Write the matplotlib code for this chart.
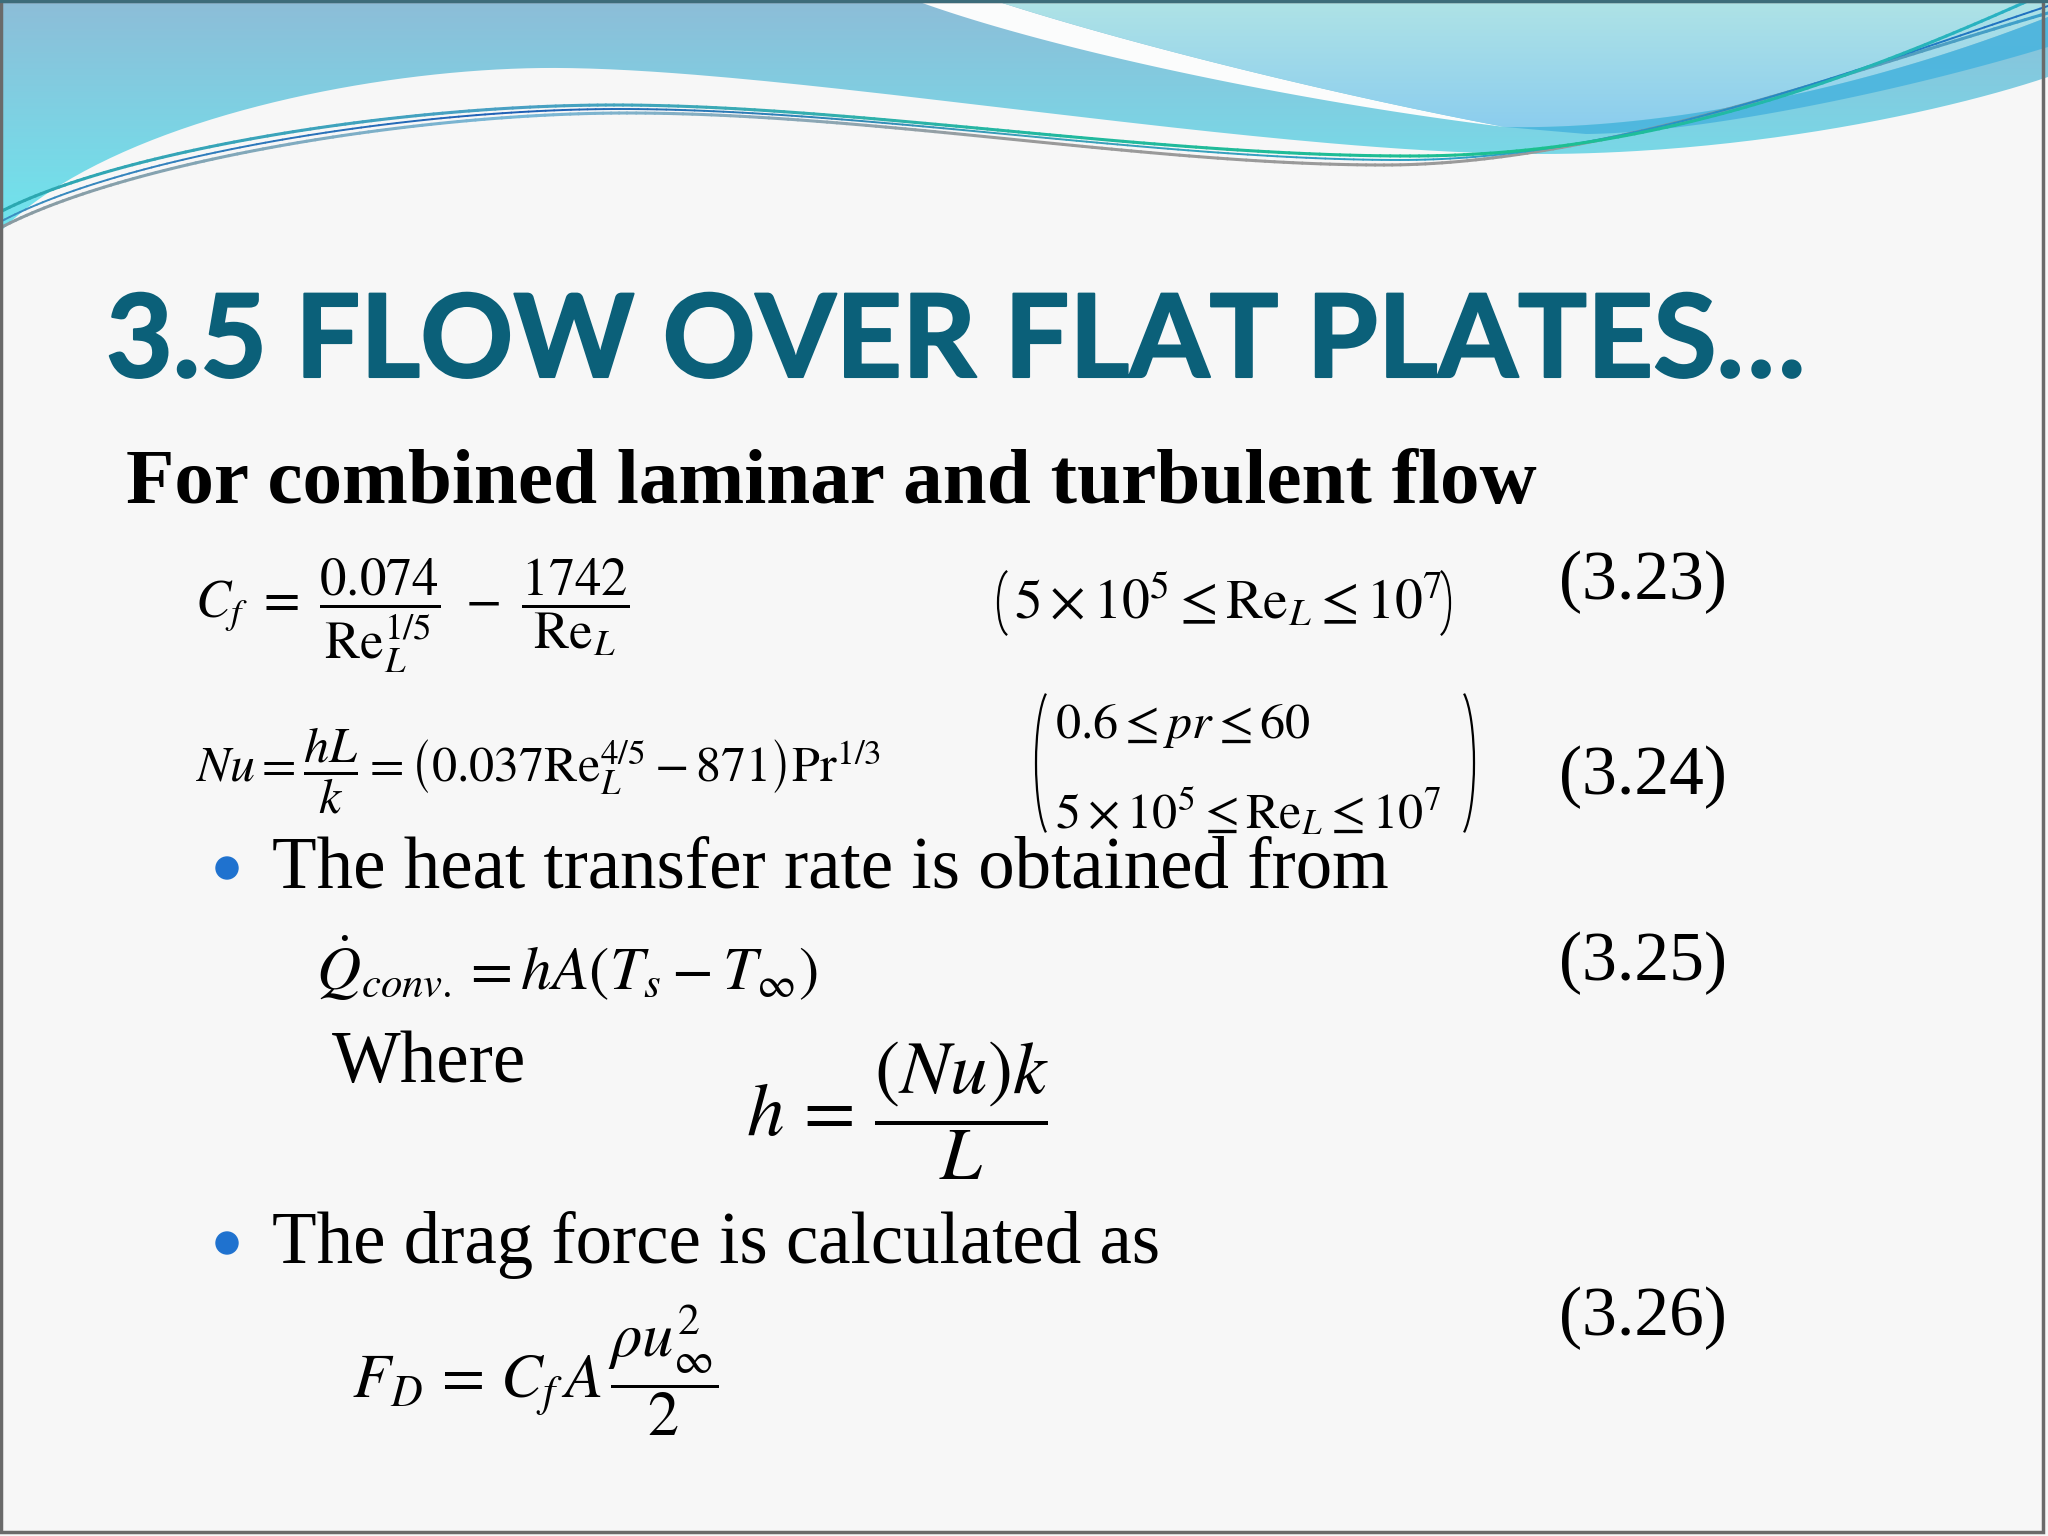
import numpy as np
import matplotlib.pyplot as plt
import matplotlib.patheffects as pe
from matplotlib.path import Path
from matplotlib.patches import PathPatch, Circle, Rectangle, Arc
from matplotlib.collections import LineCollection
from matplotlib.colors import LinearSegmentedColormap

plt.rcParams['mathtext.fontset'] = 'stix'

# slide texts
TITLE = "3.5 FLOW OVER FLAT PLATES\u2026"
SUBTITLE = "For combined laminar and turbulent flow"
BULLETS = ["The heat transfer rate is obtained from",
           "The drag force is calculated as"]
WHERE = "Where"
EQ_NUMBERS = ["(3.23)", "(3.24)", "(3.25)", "(3.26)"]
EQUATIONS = [
    r"$C_f\ =\ \dfrac{0.074}{\mathrm{Re}_L^{1/5}}\ -\ \dfrac{1742}{\mathrm{Re}_L}$",
    r"$Nu = \dfrac{hL}{k} = \left(0.037\mathrm{Re}_L^{4/5}-871\right)\mathrm{Pr}^{1/3}$",
    r"$\dot{Q}_{conv.} = hA(T_s - T_\infty)$",
    r"$F_D\,=\,C_f\,A\,\dfrac{\rho u_\infty^2}{2}$",
]
H_EQ = r"$h\,=\,\dfrac{(Nu)k}{L}$"
COND_323 = r"$5\times10^5 \leq \mathrm{Re}_L \leq 10^7$"
COND_324 = [r"$0.6 \leq pr \leq 60$", r"$5\times10^5 \leq \mathrm{Re}_L \leq 10^7$"]

W, H = 2048, 1536
BG = '#f7f7f7'

fig = plt.figure(figsize=(20.48, 15.36), dpi=100, facecolor=BG)
ax = fig.add_axes([0, 0, 1, 1])
ax.set_facecolor(BG)


def bez(p0, p1, p2, p3, n=80):
    t = np.linspace(0, 1, n)[:, None]
    return ((1 - t)**3 * p0 + 3 * (1 - t)**2 * t * p1
            + 3 * (1 - t) * t**2 * p2 + t**3 * p3)


def chain(start, segs):
    pts = [np.array([start], float)]
    cur = np.array(start, float)
    for c1, c2, end in segs:
        pts.append(bez(cur, np.array(c1, float), np.array(c2, float),
                       np.array(end, float))[1:])
        cur = np.array(end, float)
    return np.vstack(pts)


def grad_fill(poly, c_top, c_bot, y0, y1, z):
    patch = PathPatch(Path(poly), facecolor='none', edgecolor='none', zorder=z)
    ax.add_patch(patch)
    grad = np.linspace(0, 1, 256)[:, None]
    cmap = LinearSegmentedColormap.from_list('g', [c_top, c_bot])
    im = ax.imshow(grad, cmap=cmap, extent=(0, W, y1, y0), aspect='auto',
                   zorder=z, interpolation='bilinear')
    im.set_clip_path(patch)


def grad_line(pts, colors, lw, z):
    cmap = LinearSegmentedColormap.from_list('l', colors)
    segs = np.stack([pts[:-1], pts[1:]], axis=1)
    lc = LineCollection(segs, colors=cmap(pts[:-1, 0] / W), linewidths=lw,
                        zorder=z, capstyle='round')
    ax.add_collection(lc)


def paren_pair(xl, xr, yc, h, w=26, lw=1.6):
    ax.add_patch(Arc((xl + w / 2, yc), w, h, theta1=95, theta2=265, lw=lw,
                     color='black', zorder=20))
    ax.add_patch(Arc((xr - w / 2, yc), w, h, theta1=-85, theta2=85, lw=lw,
                     color='black', zorder=20))


# ---- top wave decoration ----
wave = chain((0, 232), [((110, 120), (380, 66), (562, 68)),
                        ((800, 70), (1250, 152), (1530, 154)),
                        ((1750, 155), (1950, 110), (2048, 77))])
region_a = np.vstack([[[0, 0], [W, 0]], wave[::-1]])
grad_fill(region_a, '#8dbdd8', '#6ee6ee', 0, 235, 1)

stripe_left = chain((914, 0), [((1050, 50), (1300, 102), (1505, 127))])
stripe_right = chain((993, 0), [((1100, 35), (1300, 88), (1505, 127))])
ax.add_patch(PathPatch(Path(np.vstack([stripe_left, stripe_right[::-1]])),
                       facecolor='#fbfcfc', edgecolor='none', zorder=2))

b_bottom = chain((1505, 127), [((1650, 130), (1850, 95), (2048, 17))])
region_b = np.vstack([stripe_right, b_bottom[1:], [[W, 0]]])
grad_fill(region_b, '#afe3e6', '#8bcdee', 0, 130, 3)

band_bottom = chain((1586, 134), [((1700, 133), (1900, 92), (2048, 47))])
band = np.vstack([b_bottom, band_bottom[::-1], [[1505, 127]]])
ax.add_patch(PathPatch(Path(band), facecolor='#4bb5de', edgecolor='none',
                       alpha=0.9, zorder=4))

line1 = chain((0, 212), [((120, 150), (400, 105), (614, 105)),
                         ((850, 105), (1150, 156), (1410, 156)),
                         ((1650, 156), (1850, 80), (2030, 0))])
line2 = chain((0, 228), [((130, 160), (420, 113), (627, 113)),
                         ((870, 113), (1150, 165), (1384, 165)),
                         ((1600, 165), (1850, 70), (2048, 13))])
line3 = chain((0, 222), [((125, 155), (410, 109), (620, 109)),
                         ((860, 109), (1160, 160), (1400, 160)),
                         ((1620, 160), (1840, 75), (2048, 6))])
grad_line(line2, ['#8a9aa0', '#78b8d8', '#9a9a9a', '#9a9a9a', '#3aa0cc'], 2.2, 5)
grad_line(line3, ['#3b8fc0', '#1f5fb5', '#3aa0b8', '#2a9fc8', '#2070c0'], 1.4, 5)
grad_line(line1, ['#2aa8b0', '#4aa0c4', '#22b8a0', '#1cc08f', '#2ab0c8'], 2.2, 6)

# frame
ax.add_patch(Rectangle((1, 1), 2042, 1531, facecolor='none',
                       edgecolor='#6a6a6a', lw=2.5, zorder=10))
ax.plot([0, W], [1, 1], color='#3d6c7a', lw=3, zorder=11)

# ---- text ----
title_col = '#0b6079'
ax.text(106, 377, TITLE, family='Lato', weight='bold', fontsize=83,
        color=title_col, ha='left', va='baseline', zorder=20,
        path_effects=[pe.withStroke(linewidth=1.5, foreground=title_col)])
ax.text(126, 503, SUBTITLE, family='Liberation Serif', weight='bold',
        fontsize=57, color='black', ha='left', va='baseline', zorder=20)

bullet_y = [888, 1263]
for text, by in zip(BULLETS, bullet_y):
    ax.add_patch(Circle((227, by - 20), 11, color='#1f72cf', zorder=20))
    ax.text(272, by, text, family='Liberation Serif', fontsize=52.5,
            color='black', ha='left', va='baseline', zorder=20)
ax.text(332, 1082, WHERE, family='Liberation Serif', fontsize=52.5,
        color='black', ha='left', va='baseline', zorder=20)

eq_pos = [(195, 616, 38), (195, 771, 36), (316, 968, 44), (352, 1370, 45)]
for eq, (ex, ey, fs) in zip(EQUATIONS, eq_pos):
    ax.text(ex, ey, eq, fontsize=fs, color='black', ha='left', va='center',
            zorder=20)
ax.text(746, 1111, H_EQ, fontsize=54, color='black', ha='left',
        va='center', zorder=20)

ax.text(1014, 601, COND_323, fontsize=40, color='black', ha='left',
        va='center', zorder=20)
paren_pair(998, 1450, 603, 66, w=24)
for row, ry in zip(COND_324, [725, 812]):
    ax.text(1055, ry, row, fontsize=36, color='black', ha='left',
            va='center', zorder=20)
paren_pair(1036, 1474, 763, 150, w=32)

num_y = [582, 777, 963, 1318]
for label, ny in zip(EQ_NUMBERS, num_y):
    ax.text(1559, ny, label, family='Liberation Serif', fontsize=50,
            color='black', ha='left', va='center', zorder=20)

ax.set_xlim(0, W)
ax.set_ylim(H, 0)
ax.axis('off')
fig.savefig('out.png', dpi=100, facecolor=BG)
